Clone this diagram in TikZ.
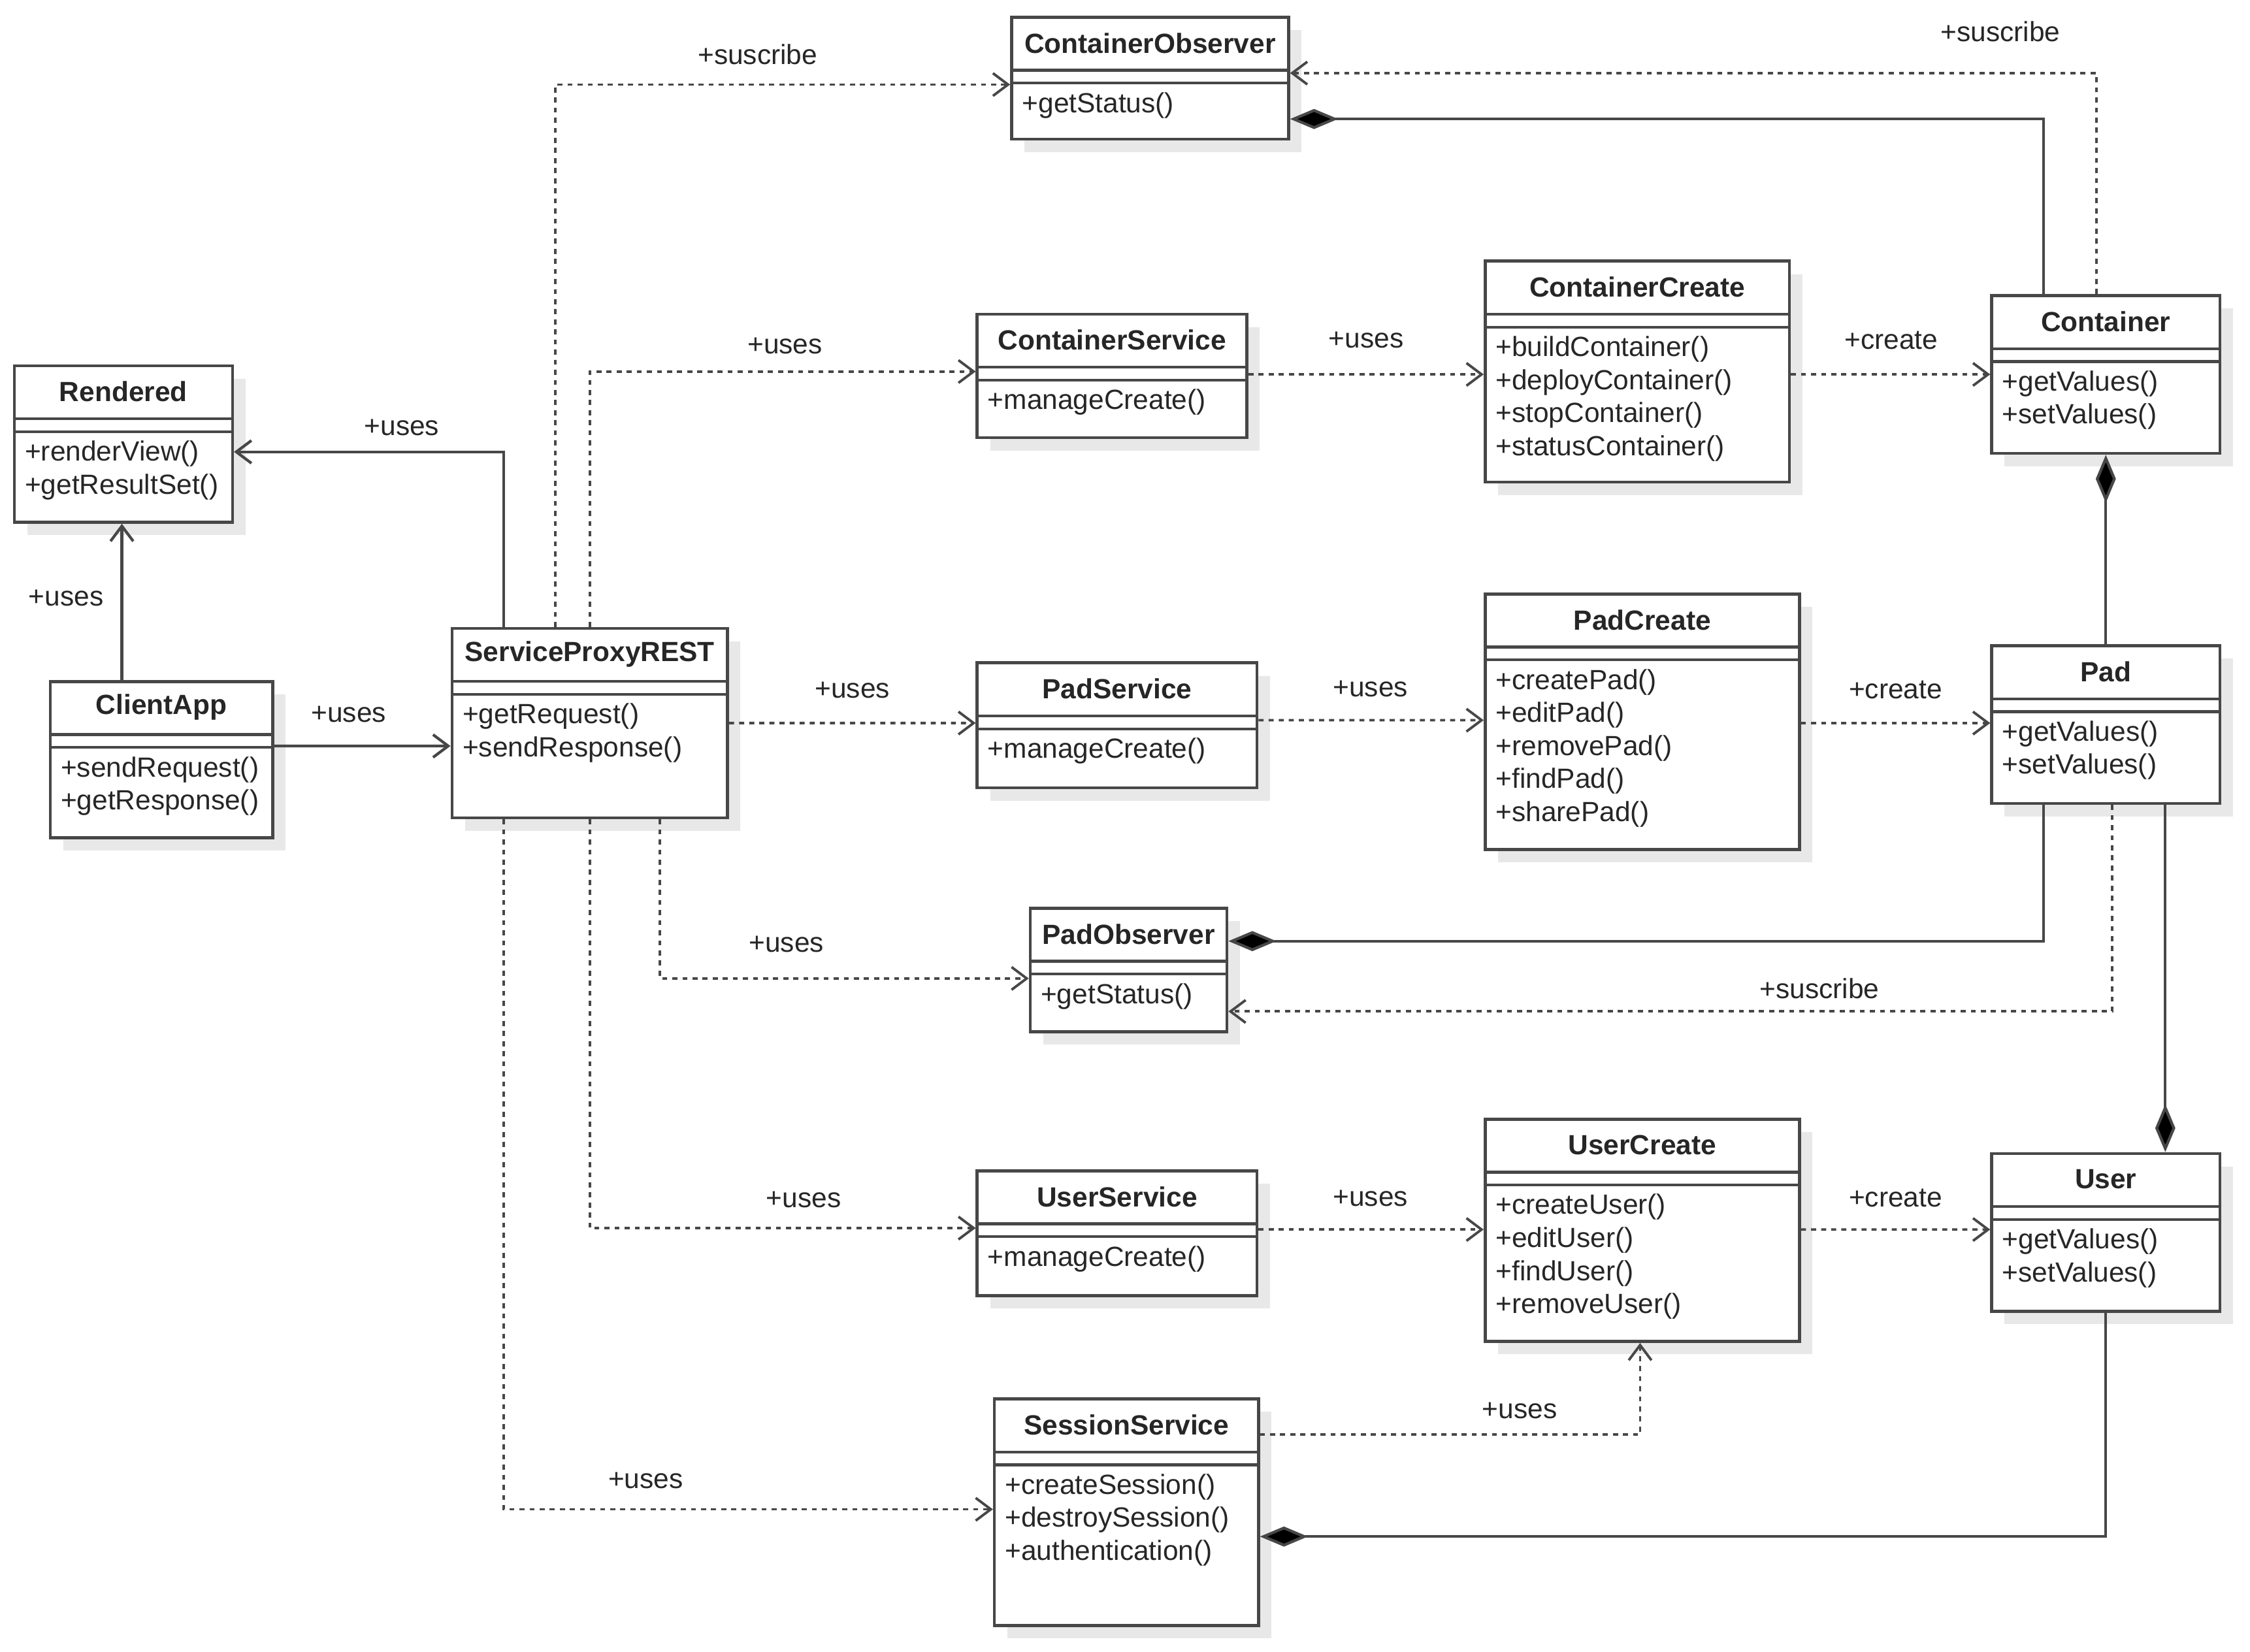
\documentclass[tikz,border=0pt]{standalone}
\usepackage{fontspec}
\setmainfont{Liberation Sans}
\usetikzlibrary{arrows.meta,fit,calc}
\colorlet{linec}{black!72}
\colorlet{shadowc}{black!9}
\tikzset{
  every node/.style={font=\fontsize{11}{13.1}\selectfont, text=black!85},
  dep/.style={draw=linec, line width=1pt, dash pattern=on 2pt off 2pt, -{Straight Barb[length=6pt,width=9pt]}},
  assoc/.style={draw=linec, line width=1.1pt, -{Straight Barb[length=6pt,width=9pt]}},
  comp/.style={draw=linec, line width=1.1pt, -{Diamond[length=19pt,width=8pt,fill=black]}},
  lbl/.style={inner sep=1pt},
}
\newcommand\umlcls[7]{%
  \fill[shadowc] (#2+9,#3+9) rectangle (#4+9,#5+9);
  \node[fit={(#2,#3)(#4,#5)},inner sep=0pt,draw=linec,line width=1.2pt,fill=white] (#1) {};
  \node[font=\fontsize{11}{13.1}\selectfont\bfseries] at (#2/2+#4/2,#3+18) {#6};
  \draw[linec,line width=1.1pt] (#2,#3+37) -- (#4,#3+37) (#2,#3+46) -- (#4,#3+46);
  \node[anchor=north west,align=left,inner sep=0pt] at (#2+7,#3+52) {#7};
}
\begin{document}
\begin{tikzpicture}[x=0.02cm,y=-0.02cm]
\useasboundingbox[fill=white] (0,0) rectangle (1568,1151);
\umlcls{co}{705}{12}{898}{97}{ContainerObserver}{+getStatus()}
\umlcls{ren}{10}{255}{162}{364}{Rendered}{+renderView()\\+getResultSet()}
\umlcls{ca}{35}{475}{190}{584}{ClientApp}{+sendRequest()\\+getResponse()}
\umlcls{spr}{315}{438}{507}{570}{ServiceProxyREST}{+getRequest()\\+sendResponse()}
\umlcls{cs}{681}{219}{869}{305}{ContainerService}{+manageCreate()}
\umlcls{ps}{681}{462}{876}{549}{PadService}{+manageCreate()}
\umlcls{us}{681}{816}{876}{903}{UserService}{+manageCreate()}
\umlcls{cc}{1035}{182}{1247}{336}{ContainerCreate}{+buildContainer()\\+deployContainer()\\+stopContainer()\\+statusContainer()}
\umlcls{pc}{1035}{414}{1254}{592}{PadCreate}{+createPad()\\+editPad()\\+removePad()\\+findPad()\\+sharePad()}
\umlcls{uc}{1035}{780}{1254}{935}{UserCreate}{+createUser()\\+editUser()\\+findUser()\\+removeUser()}
\umlcls{con}{1388}{206}{1547}{316}{Container}{+getValues()\\+setValues()}
\umlcls{pad}{1388}{450}{1547}{560}{Pad}{+getValues()\\+setValues()}
\umlcls{usr}{1388}{804}{1547}{914}{User}{+getValues()\\+setValues()}
\umlcls{po}{718}{633}{855}{719}{PadObserver}{+getStatus()}
\umlcls{ss}{693}{975}{877}{1133}{SessionService}{+createSession()\\+destroySession()\\+authentication()}

% ServiceProxyREST connectors
\draw[dep] ($(spr.north west)+(73,0)$) |- ($(co.north west)+(0,48)$);
\node[lbl] at (528,38) {+suscribe};
\draw[dep] ($(spr.north west)+(97,0)$) |- ($(cs.north west)+(0,41)$);
\node[lbl] at (547,241) {+uses};
\draw[assoc] ($(spr.north west)+(37,0)$) |- ($(ren.north east)+(0,61)$);
\node[lbl] at (280,298) {+uses};
\draw[assoc] ($(ca.north west)+(51,0)$) -- ($(ren.south west)+(76,0)$);
\node[lbl] at (46,417) {+uses};
\draw[assoc] ($(ca.north east)+(0,46)$) -- ($(spr.north west)+(0,83)$);
\node[lbl] at (243,498) {+uses};
\draw[dep] ($(spr.north east)+(0,67)$) -- ($(ps.north west)+(0,43)$);
\node[lbl] at (594,481) {+uses};
\draw[dep] ($(spr.south west)+(146,0)$) |- ($(po.north west)+(0,50)$);
\node[lbl] at (548,658) {+uses};
\draw[dep] ($(spr.south west)+(97,0)$) |- ($(us.north west)+(0,41)$);
\node[lbl] at (560,836) {+uses};
\draw[dep] ($(spr.south west)+(37,0)$) |- ($(ss.north west)+(0,78)$);
\node[lbl] at (450,1032) {+uses};

% service -> create -> entity
\draw[dep] ($(cs.north east)+(0,43)$) -- ($(cc.north west)+(0,80)$);
\node[lbl] at (952,237) {+uses};
\draw[dep] ($(cc.north east)+(0,80)$) -- ($(con.north west)+(0,56)$);
\node[lbl] at (1318,237) {+create};
\draw[dep] ($(ps.north east)+(0,41)$) -- ($(pc.north west)+(0,89)$);
\node[lbl] at (955,480) {+uses};
\draw[dep] ($(pc.north east)+(0,91)$) -- ($(pad.north west)+(0,55)$);
\node[lbl] at (1321,481) {+create};
\draw[dep] ($(us.north east)+(0,42)$) -- ($(uc.north west)+(0,78)$);
\node[lbl] at (955,835) {+uses};
\draw[dep] ($(uc.north east)+(0,78)$) -- ($(usr.north west)+(0,54)$);
\node[lbl] at (1321,835) {+create};

% Container to ContainerObserver
\draw[comp] ($(con.north west)+(37,0)$) |- ($(co.north east)+(0,72)$);
\draw[dep] ($(con.north west)+(74,0)$) |- ($(co.north east)+(0,40)$);
\node[lbl] at (1394,22) {+suscribe};

% Pad relations
\draw[comp] (pad.north) -- (con.south);
\draw[comp] ($(pad.south west)+(37,0)$) |- ($(po.north east)+(0,24)$);
\draw[dep] ($(pad.south west)+(85,0)$) |- ($(po.north east)+(0,73)$);
\node[lbl] at (1268,689) {+suscribe};
\draw[comp] ($(pad.south west)+(122,0)$) -- ($(usr.north west)+(122,0)$);

% User / Session
\draw[comp] (usr.south) |- ($(ss.north east)+(0,97)$);
\draw[dep] ($(ss.north east)+(0,26)$) -| ($(uc.south west)+(109,0)$);
\node[lbl] at (1059,983) {+uses};
\end{tikzpicture}
\end{document}
